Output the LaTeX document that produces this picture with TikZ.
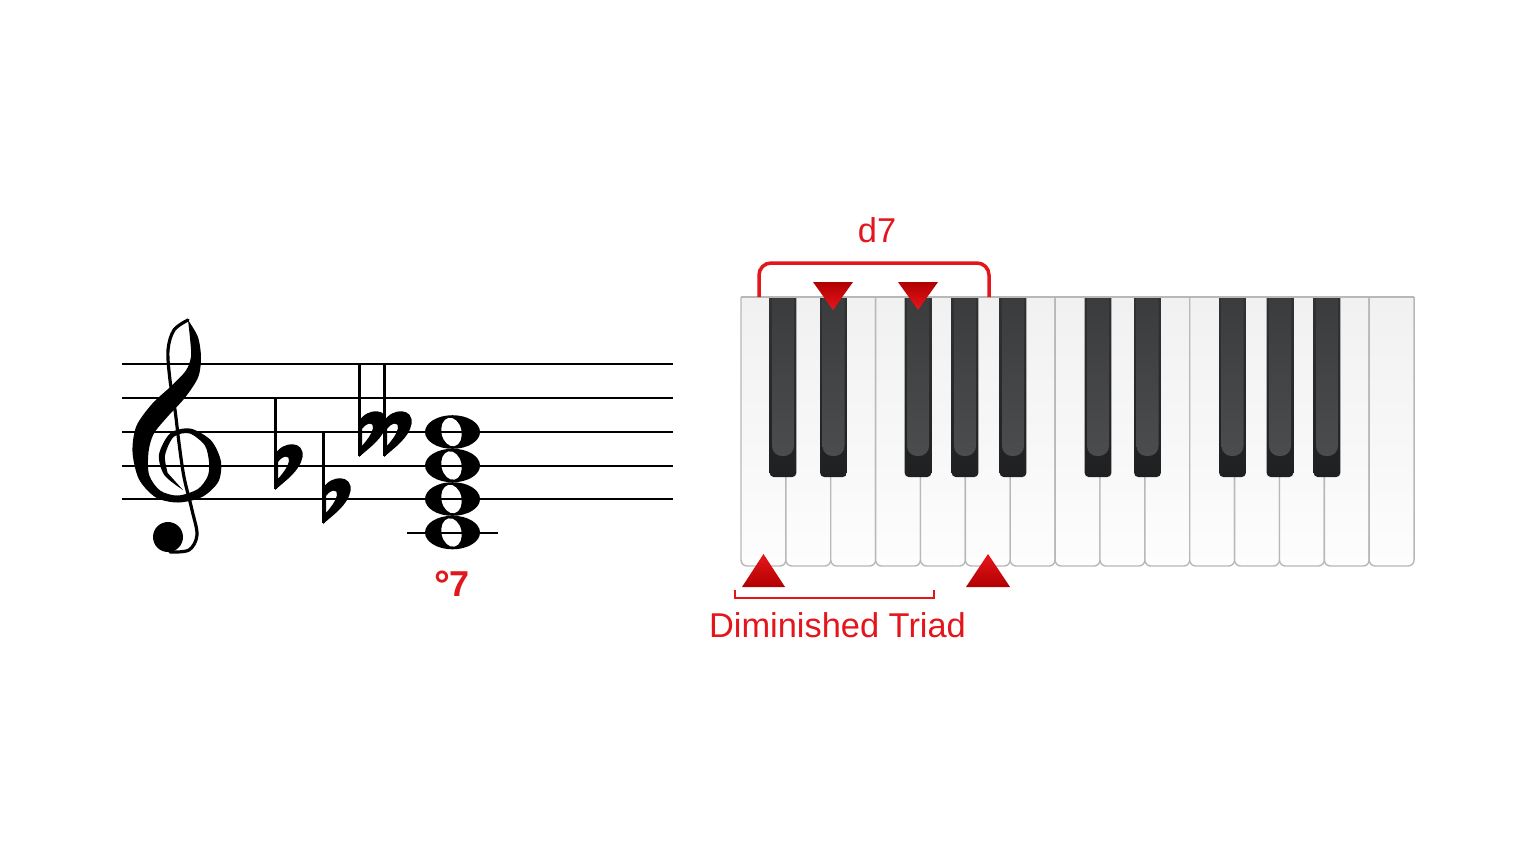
\documentclass[tikz,border=0pt]{standalone}
\usepackage{fontspec}
\usepackage{graphicx}
\setmainfont{Liberation Sans}
\definecolor{mred}{HTML}{E3161C}
\definecolor{keyborder}{HTML}{B8B8B8}
\definecolor{wkTop}{HTML}{F0F0F0}
\definecolor{wkBot}{HTML}{FDFDFD}
\definecolor{bkOuterTop}{HTML}{333435}
\definecolor{bkOuterBot}{HTML}{1F2021}
\definecolor{bkTop}{HTML}{393A3C}
\definecolor{bkMid}{HTML}{4B4C4E}
\definecolor{triDark}{HTML}{B00000}
\definecolor{triLight}{HTML}{E8161C}
\tikzset{
  staffline/.style={line width=1pt, black},
  lbl/.style={text=mred, font=\fontsize{17.2}{19}\selectfont, inner sep=0pt},
  flatsign/.pic={
    \draw[line width=1.5pt] (0,-67) -- (0,24);
    \fill[even odd rule] (0,-11) .. controls (9,-25) and (30,-24) .. (27.5,-8) .. controls (25,6) and (10,16) .. (0,25) -- cycle
      (3,-3) .. controls (8,-10) and (15,-10) .. (14,-4) .. controls (13,2) and (8,8) .. (3,14) -- cycle;
  },
  whitekey/.style={top color=wkTop, bottom color=wkBot, draw=keyborder, line width=0.7pt, rounded corners=3pt},
  blackouter/.style={top color=bkOuterTop, bottom color=bkOuterBot, rounded corners=2pt},
  blackinner/.style={top color=bkTop, bottom color=bkMid, rounded corners=5pt},
  tridown/.style={top color=triDark, bottom color=triLight},
  triup/.style={top color=triLight, bottom color=triDark},
  bracket/.style={draw=mred, line width=1.75pt, rounded corners=6pt},
  smallbracket/.style={draw=mred, line width=1pt}
}
\begin{document}
\begin{tikzpicture}[x=0.5pt,y=-0.5pt]
\useasboundingbox (0,0) rectangle (1536,864);
\fill[white] (0,0) rectangle (1536,864);

% ---------- whole notes (drawn before staff lines so lines show through holes)
\foreach \y in {432,465.5,499,532.5} {
  \fill (452.5,\y) ellipse [x radius=13.75pt, y radius=8.4pt];
  \fill[white, rotate around={12:(451.5,\y)}] (451.5,\y) ellipse [x radius=5pt, y radius=7.2pt];
}

% ---------- staff
\foreach \y in {364,398,432,465.5,499} \draw[staffline] (122,\y) -- (673,\y);
\draw[staffline] (407,532.5) -- (498,532.5);

% ---------- treble clef
\begin{scope}[line cap=round, line join=round]
  \fill (168,537) circle [radius=7.5pt];
  \draw[line width=1.6pt] plot[smooth, tension=0.55] coordinates {(170,552) (189,550) (197,535) (192,510) (184,477) (179,443) (175,410) (170,380) (168,350) (174,330) (188,320)};
  \fill plot[smooth, tension=0.5] coordinates {
      (188,320) (190.1,339.1) (191.0,356.5) (185.9,370.6) (171.3,386.0) (152.5,403.4)
      (136.4,426.0) (132.5,451.8) (138.9,479.1) (155.8,497.4) (178.1,502.5) (202.2,496.9)
      (218.4,481.6) (220.9,461.2) (211.1,440.5) (190.5,428.6) (170.4,433.1) (159.0,454.5)
      (164.3,475.0) (183,490)}
    -- plot[smooth, tension=0.5] coordinates {
      (167.7,473.0) (165.0,455.5) (173.6,436.9) (189.5,433.4) (204.9,445.5) (209.1,462.8)
      (207.6,476.4) (197.8,489.1) (177.9,495.5) (160.2,490.6) (149.1,474.9) (148.5,452.2)
      (153.6,434.0) (167.6,416.6) (184.7,398.0) (198.1,377.4) (201.0,357.5) (197.9,336.9) (188,320)}
    -- cycle;
\end{scope}

% ---------- flats
\pic at (275,465) {flatsign};
\pic at (323,499) {flatsign};
\pic at (359,432) {flatsign};
\pic at (384,432) {flatsign};

% ---------- chord label
\node[lbl, font=\fontsize{18}{20}\selectfont\bfseries, anchor=base] (o7) at (452,596) {\raisebox{-1pt}{\scalebox{1.1}{°}}7};

% ---------- keyboard
\begin{scope}
  \clip (735,297) rectangle (1420,575);
  \foreach \i in {0,...,14} {
    \pgfmathsetmacro\xa{741+\i*44.87}
    \pgfmathsetmacro\xb{\xa+44.87}
    \shadedraw[whitekey] (\xa,280) rectangle (\xb,566);
  }
  \foreach \c in {783,833.5,918,965,1013,1098,1147.5,1232.5,1280,1327} {
    \shade[blackouter] (\c-13.3,280) rectangle (\c+13.3,477);
    \shade[blackinner] (\c-11,280) rectangle (\c+11,456);
  }
\end{scope}
\draw[keyborder, line width=0.7pt] (741,297) -- (1414,297);

% ---------- d7 bracket and markers
\draw[bracket] (759,297) -- (759,263) -- (989,263) -- (989,297);
\node[lbl, anchor=base] (d7) at (877,242) {d7};
\shade[tridown] (813,282) -- (853,282) -- (833,310) -- cycle;
\shade[tridown] (898,282) -- (938,282) -- (918,310) -- cycle;

% ---------- triad markers
\shade[triup] (742,587) -- (785,587) -- (763.5,554) -- cycle;
\shade[triup] (966,587) -- (1010,587) -- (988,554) -- cycle;
\draw[smallbracket] (735,590) -- (735,598) -- (934,598) -- (934,590);
\node[lbl, anchor=base] (dim) at (837.5,637) {Diminished Triad};
\end{tikzpicture}
\end{document}
